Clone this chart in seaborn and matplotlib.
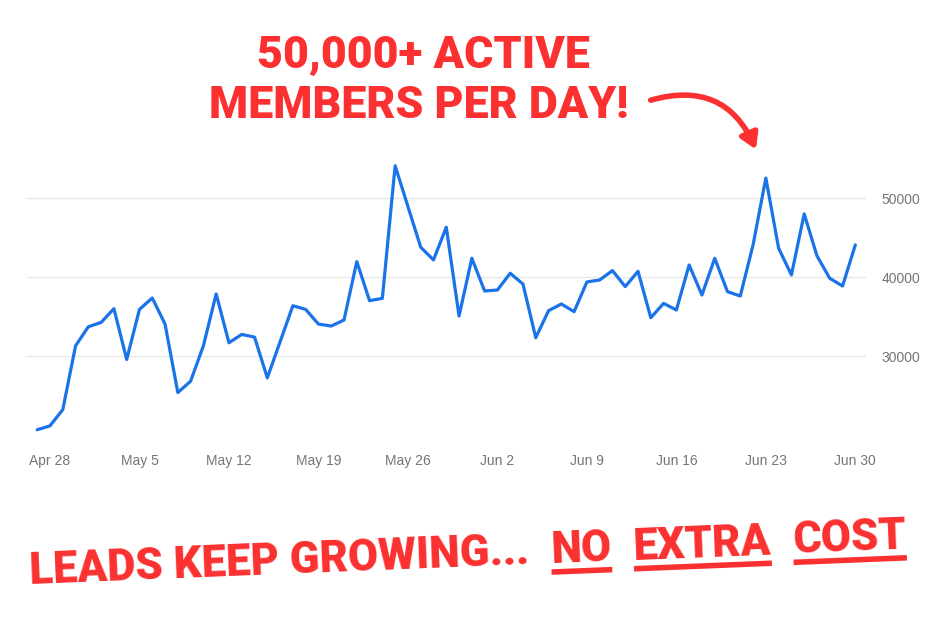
import pandas as pd
import numpy as np
from matplotlib import pyplot as plt
import matplotlib.dates as mdates
import seaborn as sns

# daily active members, Apr 27 - Jun 30
start_date = "2024-04-27"
end_date = "2024-06-30"
members = [20700, 21200, 23250, 31330, 33740, 34290, 36030, 29600, 35940, 37380,
           34080, 25410, 26850, 31330, 37890, 31710, 32770, 32430, 27270, 31840,
           36400, 35940, 34080, 33830, 34590, 41990, 37040, 37340, 54120, 48960,
           43810, 42200, 46340, 35100, 42410, 38270, 38390, 40510, 39150, 32350,
           35770, 36620, 35650, 39410, 39660, 40850, 38820, 40760, 34880, 36700,
           35860, 41560, 37760, 42410, 38180, 37630, 44100, 52560, 43680, 40300,
           48030, 42710, 39870, 38900, 44100]
y_ticks = [30000, 40000, 50000]
x_tick_days = ["2024-04-28", "2024-05-05", "2024-05-12", "2024-05-19", "2024-05-26",
               "2024-06-02", "2024-06-09", "2024-06-16", "2024-06-23", "2024-06-30"]

headline = ["50,000+ ACTIVE", "MEMBERS PER DAY!"]
footer_parts = ["LEADS KEEP GROWING...", "NO", "EXTRA", "COST"]
footer_underlined = [False, True, True, True]

df = pd.DataFrame({
    "date": pd.date_range(start_date, end_date, freq="D"),
    "members": members,
})

sns.set_style("white")
red = "#fb3030"
grey = "#757575"
hand = ["Roboto", "DejaVu Sans"]

W, H = 937, 625
fig = plt.figure(figsize=(W / 100, H / 100), dpi=100)
ax = fig.add_axes([0.0288, 0.3008, 0.8955, 0.4432])

sns.lineplot(data=df, x="date", y="members", color="#1a73e8", linewidth=2.3, ax=ax)

ax.set_ylim(19785, 54848)
ax.set_xlim(pd.Timestamp(start_date) - pd.Timedelta(days=0.8),
            pd.Timestamp(end_date) + pd.Timedelta(days=0.84))
ax.set_yticks(y_ticks)
ax.set_xticks(pd.to_datetime(x_tick_days))
ax.xaxis.set_major_formatter(mdates.DateFormatter("%b %-d"))
ax.yaxis.tick_right()
ax.tick_params(axis="both", length=0, labelsize=10, colors=grey)
ax.tick_params(axis="x", pad=12)
ax.tick_params(axis="y", pad=11)
for lab in ax.get_xticklabels() + ax.get_yticklabels():
    lab.set_family(["Liberation Sans", "DejaVu Sans"])
ax.grid(axis="y", color="#e8e8e8", linewidth=1)
ax.set_xlabel("")
ax.set_ylabel("")
sns.despine(ax=ax, left=True, bottom=True, right=True, top=True)

renderer = fig.canvas.get_renderer()


def text_width(s, size):
    t = fig.text(0, 0, s, fontsize=size, fontweight="heavy", family=hand)
    w = t.get_window_extent(renderer).width
    t.remove()
    return w


# headline: fit second line to ~412 px wide
hsize = 30 * 420 / text_width(headline[1], 30)
fig.text(423 / W, 1 - 56 / H, headline[0], ha="center", va="center",
         fontsize=hsize, fontweight="heavy", color=red, family=hand)
fig.text(419 / W, 1 - 106 / H, headline[1], ha="center", va="center",
         fontsize=hsize, fontweight="heavy", color=red, family=hand)

ax.annotate("", xy=(757, H - 152), xycoords="figure pixels",
            xytext=(648, H - 101), textcoords="figure pixels",
            arrowprops=dict(arrowstyle="-|>,head_length=0.9,head_width=0.55",
                            color=red, lw=4,
                            connectionstyle="arc3,rad=-0.45"))

# footer: tilted line, fit to ~875 px, underlined words
angle = 2.3
ca, sa = np.cos(np.radians(angle)), np.sin(np.radians(angle))
full = "  ".join(footer_parts)
fsize = 30 * 875 / text_width(full, 30)
gap = text_width("A  A", fsize) - text_width("AA", fsize)
x0, y0 = 30, H - 584
d = 0
for text, und in zip(footer_parts, footer_underlined):
    w = text_width(text, fsize)
    px, py = x0 + d * ca, y0 + d * sa
    fig.text(px / W, py / H, text, ha="left", va="baseline",
             fontsize=fsize, fontweight="heavy", color=red, family=hand,
             rotation=angle, rotation_mode="anchor")
    if und:
        off = 9
        ux, uy = px + off * sa, py - off * ca
        fig.add_artist(plt.Line2D([ux / W, (ux + w * ca) / W],
                                  [uy / H, (uy + w * sa) / H],
                                  color=red, linewidth=4, solid_capstyle="butt"))
    d += w + gap

plt.savefig("out.png", dpi=100)
